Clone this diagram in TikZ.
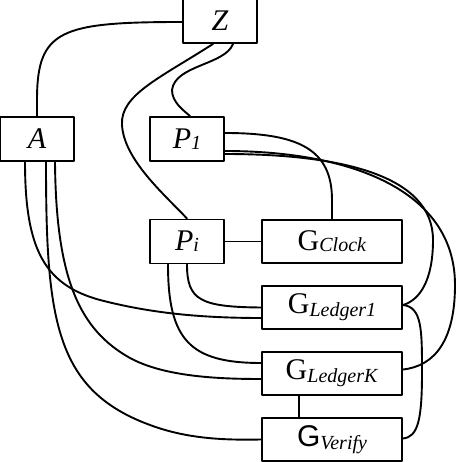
\documentclass[tikz,border=0pt]{standalone}
\usepackage{fontspec}
\setmainfont{Liberation Serif}
\newfontfamily\gsans{Liberation Sans}
\newcommand{\lowsub}[2][2pt]{\raisebox{-#1}{\fontsize{20}{21}\selectfont\textit{#2}}}
\begin{document}
\begin{tikzpicture}[x=1pt, y=-1pt, line cap=round, line join=round,
  party/.style={draw, line width=1.9pt, inner sep=0pt, minimum width=74pt, minimum height=44pt,
    font=\fontsize{30}{32}\selectfont},
  func/.style={party, minimum width=140pt, minimum height=43pt},
  wire/.style={line width=1.9pt}]
% Canvas in pixels of the source figure
\useasboundingbox (0,0) rectangle (474,462);
% Parties
\node[party] (Z) at (220,21) {\textit{Z}};
\node[party] (A) at (37,139) {\textit{A}};
\node[party] (P1) at (187,139) {\textit{P}\lowsub[1pt]{1}};
\node[party] (Pi) at (187,241.5) {\textit{P}\lowsub[1pt]{i}};
% Functionalities
\node[func] (Gclk) at (332,241.5) {G\lowsub[1pt]{Clock}};
\node[func] (Gl1) at (332,307.5) {G\lowsub[3pt]{Ledger1}};
\node[func] (GlK) at (332,373.5) {G\lowsub[3pt]{LedgerK}};
\node[func] (Gver) at (332,439.5) {{\gsans G}\lowsub[3pt]{Verify}};
\begin{scope}[wire]
  % Environment
  \draw ([yshift=-1pt]Z.west) .. controls (60,22) and (37,30) .. (37,100) -- (A.north);
  \draw ([xshift=-7pt]Z.south) .. controls (160,78) and (120,95) .. (122,125)
    .. controls (124,160) and (165,195) .. (Pi.north);
  \draw ([xshift=13pt]Z.south) .. controls (225,65) and (175,65) .. (172,90)
    .. controls (172,102) and (183,110) .. ([xshift=3pt]P1.north);
  % P_1
  \draw ([yshift=6pt]P1.east) .. controls (300,133) and (332,150) .. (332,200) -- (Gclk.north);
  \draw ([yshift=-15pt]P1.east) .. controls (340,154) and (433,175) .. (433,240)
    .. controls (433,280) and (420,300) .. ([yshift=2.5pt]Gl1.east);
  \draw ([yshift=-12pt]P1.east) .. controls (350,151) and (455,190) .. (455,285)
    .. controls (455,340) and (435,366) .. ([yshift=4pt]GlK.east);
  % P_i
  \draw (Pi.east) -- (Gclk.west);
  \draw (Pi.south) .. controls (187,300) and (200,307) .. (Gl1.west);
  \draw ([xshift=-19pt]Pi.south) .. controls (168,340) and (190,363) .. ([yshift=10.5pt]GlK.west);
  % Adversary
  \draw ([xshift=-12pt]A.south) .. controls (25,250) and (45,285) .. (100,300)
    .. controls (150,313) and (200,318) .. ([yshift=-10.5pt]Gl1.west);
  \draw ([xshift=18pt]A.south) .. controls (56,280) and (80,330) .. (130,358)
    .. controls (165,377) and (220,379) .. ([yshift=-5.5pt]GlK.west);
  \draw ([xshift=9pt]A.south) .. controls (46,320) and (55,390) .. (150,425)
    .. controls (190,440) and (230,440) .. (Gver.west);
  % Functionalities among themselves
  \draw ([yshift=2.5pt]Gl1.east) .. controls (422,307) and (422,330) .. (422,372)
    .. controls (422,420) and (418,437) .. ([yshift=1pt]Gver.east);
  \draw ([xshift=-33pt]GlK.south) -- ([xshift=-33pt]Gver.north);
\end{scope}
\end{tikzpicture}
\end{document}
